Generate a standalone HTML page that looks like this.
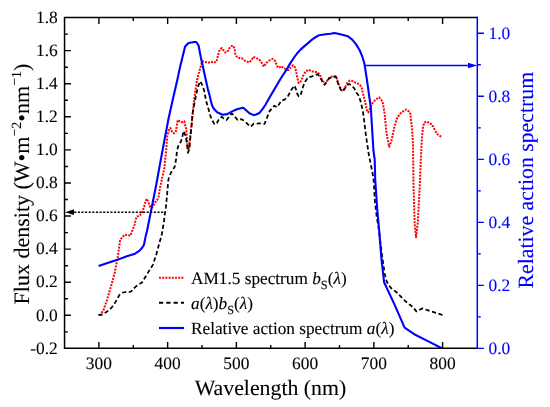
<!DOCTYPE html><html><head><meta charset="utf-8"><style>html,body{margin:0;padding:0;background:#fff;width:550px;height:407px;overflow:hidden}svg{display:block}text{font-family:"Liberation Serif",serif;text-rendering:geometricPrecision;stroke:#000;stroke-width:0.1px}text.b{fill:#00f;stroke:#00f}svg{will-change:transform}</style></head><body>
<svg width="550" height="407" viewBox="0 0 550 407">
<rect width="550" height="407" fill="#fff"/>
<polyline points="99.3,315.3 100.9,313.9 103.4,310.5 105.3,304.6 107.3,299.2 108.8,293.8 110.2,288.8 111.7,283.9 112.7,280.0 114.6,273.4 117.6,257.7 120.2,239.8 124.6,234.7 130.5,235.6 134.5,224.8 136.4,217.0 140.0,215.1 142.0,212.6 143.9,207.3 144.9,203.8 145.9,200.4 146.9,198.7 148.3,201.9 149.3,204.8 150.5,207.8 152.3,207.3 153.7,204.8 155.2,202.4 157.2,199.9 158.6,197.0 160.0,187.5 164.2,169.1 166.1,150.7 167.3,136.0 169.1,129.2 170.4,128.0 172.2,132.3 174.0,133.5 175.9,131.1 177.7,120.0 181.3,122.2 184.2,121.3 186.2,129.1 187.5,144.8 188.7,149.7 190.1,137.0 192.1,119.3 194.2,99.1 197.0,80.0 198.3,75.0 202.2,61.2 204.9,62.0 208.2,62.8 210.9,61.7 213.6,62.8 216.4,61.7 218.0,55.7 219.6,49.7 221.8,48.1 225.1,52.4 227.3,51.9 229.4,48.1 231.6,45.9 233.3,45.9 234.7,49.2 235.4,54.1 237.1,57.4 239.3,57.9 242.0,58.4 244.7,60.6 247.4,61.7 249.6,62.3 251.8,59.5 253.4,56.8 258.9,59.2 261.0,61.4 262.3,64.4 264.0,66.5 265.8,63.5 267.9,61.4 270.1,60.1 272.6,58.8 274.8,60.5 276.1,63.5 277.4,66.5 279.1,67.8 281.2,66.1 283.8,68.2 286.0,69.5 288.6,70.0 290.7,67.4 292.9,65.2 295.0,67.4 295.9,70.4 296.8,75.0 297.8,79.7 298.6,83.0 300.4,81.9 301.9,78.9 303.0,76.0 304.5,73.4 305.9,71.2 308.9,69.7 311.1,71.2 314.0,71.9 317.0,71.9 319.6,74.2 322.2,80.4 325.1,83.7 328.8,78.2 332.1,76.4 335.8,76.4 336.9,78.5 338.2,82.7 339.4,86.1 341.5,90.2 343.6,90.2 345.3,86.9 347.4,82.7 349.9,80.6 352.4,81.1 354.9,82.3 357.8,83.6 359.9,84.8 361.6,87.3 363.1,93.9 365.3,102.8 366.8,110.1 368.3,112.4 370.7,106.8 372.8,102.6 375.7,99.6 379.3,97.3 382.6,101.6 384.6,113.4 386.5,133.0 389.1,146.8 391.4,140.9 394.4,127.2 397.3,117.3 401.3,112.4 406.2,109.5 410.1,112.4 412.1,129.1 413.0,144.8 413.5,186.9 414.7,223.7 416.0,237.2 417.7,223.7 419.7,186.9 421.3,149.1 422.0,136.9 422.9,128.3 424.1,122.7 426.6,121.5 429.0,122.7 432.1,124.6 434.6,129.5 437.0,133.8 439.5,135.6 442.2,137.5" fill="none" stroke="#ff0000" stroke-width="2" stroke-dasharray="2 1.2" stroke-linejoin="round"/>
<polyline points="98.4,314.9 101.4,314.9 104.3,313.4 107.8,311.0 110.7,308.5 113.2,305.6 115.1,302.6 117.6,298.2 119.6,294.7 122.0,292.8 125.5,292.0 128.9,292.3 131.4,291.3 133.8,288.4 136.3,286.2 142.2,282.2 147.5,273.4 153.0,264.6 156.5,253.8 159.8,241.5 161.5,236.0 163.2,226.0 164.0,221.5 164.7,214.8 165.9,207.4 166.6,200.0 168.4,179.5 170.9,172.7 173.5,168.8 174.7,166.8 176.2,158.7 177.0,150.5 178.5,145.5 181.0,141.5 182.5,136.0 183.6,131.0 185.8,136.5 187.3,146.9 188.0,152.8 189.5,148.3 190.2,139.5 191.7,124.7 192.4,114.3 194.8,101.5 196.8,91.7 198.3,85.8 200.3,81.2 202.2,84.8 204.2,90.7 205.2,96.3 206.4,101.9 207.7,106.2 209.0,110.9 210.3,115.6 212.0,119.9 214.2,123.8 216.3,124.2 218.1,120.8 220.2,117.8 222.0,116.9 223.6,118.5 226.5,120.0 229.5,116.3 231.7,113.3 234.7,116.3 237.6,120.0 241.3,119.2 244.2,120.7 247.9,124.4 250.9,126.6 253.8,123.7 260.0,123.4 264.5,123.9 266.8,118.3 269.7,110.9 274.2,105.7 277.1,107.2 281.5,100.6 284.5,99.6 287.8,96.4 291.3,90.0 294.5,85.6 295.8,88.8 297.1,93.5 298.7,96.4 300.6,95.1 301.9,90.7 303.1,86.5 305.1,81.7 308.2,77.1 311.5,76.7 314.4,75.3 317.4,74.2 319.6,76.4 322.2,81.2 324.4,84.8 326.9,81.9 328.8,78.6 332.1,77.1 335.8,76.4 337.8,82.7 339.4,86.9 341.1,90.2 342.8,91.5 344.5,89.0 346.5,85.6 349.0,84.0 351.6,85.2 354.1,88.2 356.6,92.8 358.9,96.0 360.5,101.0 362.8,110.7 364.3,122.0 365.8,134.2 367.2,144.0 368.7,153.8 370.6,163.6 372.6,173.4 373.8,181.4 374.7,199.1 376.7,216.8 378.7,228.6 381.8,253.6 384.7,273.9 386.8,281.8 390.7,287.7 396.5,292.2 405.3,301.1 412.7,307.0 416.4,311.4 422.3,308.4 428.9,310.6 436.3,312.9 443.2,315.2" fill="none" stroke="#000" stroke-width="1.75" stroke-dasharray="4.2 2.6" stroke-linejoin="round"/>
<polyline points="98.6,266.1 109.7,262.3 118.1,259.5 127.6,256.1 134.3,254.1 139.6,250.6 142.3,247.5 144.0,244.7 144.7,240.9 145.7,236.1 146.8,232.0 147.8,227.3 150.2,215.0 154.2,195.0 156.1,185.5 160.8,159.6 164.5,140.0 168.4,119.3 172.8,99.6 177.3,80.0 179.6,69.1 185.1,46.5 188.5,43.0 194.4,42.0 196.3,42.0 198.5,45.3 200.8,57.2 204.3,73.0 207.8,89.0 209.5,95.0 210.7,100.2 212.0,105.3 213.8,108.8 217.2,112.2 222.5,114.8 227.3,114.1 231.7,111.6 236.9,109.2 242.8,107.7 245.0,109.2 249.4,113.3 253.8,115.1 255.5,114.8 259.4,113.0 262.5,109.2 265.3,105.0 269.7,97.3 275.6,87.3 280.0,79.7 283.0,75.0 286.7,69.4 290.2,63.4 293.6,58.2 297.0,53.5 300.5,49.6 303.9,46.6 307.4,43.6 310.8,40.6 314.2,38.0 319.1,35.2 325.5,34.2 330.5,33.7 334.4,33.0 338.2,33.7 343.3,34.9 347.7,36.2 352.2,39.6 356.0,44.1 359.8,50.5 362.4,56.8 364.3,63.2 365.4,70.0 366.8,78.9 369.7,99.6 370.8,107.5 373.4,150.0 374.7,159.6 375.2,179.5 377.2,208.9 379.1,229.6 381.5,259.5 384.1,282.2 395.0,305.6 404.6,327.6 414.2,334.2 427.4,340.9 441.8,348.3" fill="none" stroke="#0000ff" stroke-width="2.1" stroke-linejoin="round"/>
<line x1="74.2" y1="212.2" x2="164.5" y2="212.2" stroke="#000" stroke-width="1.6" stroke-dasharray="2.1 1.52"/>
<polygon points="65.2,212.2 74,209.3 74,215.1" fill="#000"/>
<line x1="364.8" y1="65.5" x2="470" y2="65.5" stroke="#0000ff" stroke-width="1.4"/>
<polygon points="477.2,65.5 468,62.7 468,68.3" fill="#0000ff"/>
<path d="M477.3,17.5 H64.55 V348.35 H477.3" fill="none" stroke="#000" stroke-width="1.5"/>
<path d="M98.90,348.35 V341.95000000000005 M98.90,17.5 V23.9 M133.27,348.35 V344.95000000000005 M133.27,17.5 V20.9 M167.64,348.35 V341.95000000000005 M167.64,17.5 V23.9 M202.01,348.35 V344.95000000000005 M202.01,17.5 V20.9 M236.38,348.35 V341.95000000000005 M236.38,17.5 V23.9 M270.75,348.35 V344.95000000000005 M270.75,17.5 V20.9 M305.12,348.35 V341.95000000000005 M305.12,17.5 V23.9 M339.49,348.35 V344.95000000000005 M339.49,17.5 V20.9 M373.86,348.35 V341.95000000000005 M373.86,17.5 V23.9 M408.23,348.35 V344.95000000000005 M408.23,17.5 V20.9 M442.60,348.35 V341.95000000000005 M442.60,17.5 V23.9 M64.55,331.84 H67.95 M64.55,315.30 H70.95 M64.55,298.76 H67.95 M64.55,282.22 H70.95 M64.55,265.68 H67.95 M64.55,249.14 H70.95 M64.55,232.60 H67.95 M64.55,216.06 H70.95 M64.55,199.52 H67.95 M64.55,182.98 H70.95 M64.55,166.44 H67.95 M64.55,149.90 H70.95 M64.55,133.36 H67.95 M64.55,116.82 H70.95 M64.55,100.28 H67.95 M64.55,83.74 H70.95 M64.55,67.20 H67.95 M64.55,50.66 H70.95 M64.55,34.12 H67.95" stroke="#000" stroke-width="1.4" fill="none"/>
<path d="M477.3,348.40 H483.90000000000003 M477.3,316.89 H480.8 M477.3,285.38 H483.90000000000003 M477.3,253.87 H480.8 M477.3,222.36 H483.90000000000003 M477.3,190.85 H480.8 M477.3,159.34 H483.90000000000003 M477.3,127.83 H480.8 M477.3,96.32 H483.90000000000003 M477.3,64.81 H480.8 M477.3,33.30 H483.90000000000003" stroke="#0000ff" stroke-width="1.4" fill="none"/>
<line x1="477.3" y1="16.8" x2="477.3" y2="349.05" stroke="#0000ff" stroke-width="1.5"/>
<text x="98.9" y="369.4" font-size="17.4" text-anchor="middle">300</text>
<text x="167.6" y="369.4" font-size="17.4" text-anchor="middle">400</text>
<text x="236.4" y="369.4" font-size="17.4" text-anchor="middle">500</text>
<text x="305.1" y="369.4" font-size="17.4" text-anchor="middle">600</text>
<text x="373.9" y="369.4" font-size="17.4" text-anchor="middle">700</text>
<text x="442.6" y="369.4" font-size="17.4" text-anchor="middle">800</text>
<text x="57.8" y="353.6" font-size="17.4" text-anchor="end">-0.2</text>
<text x="57.8" y="320.5" font-size="17.4" text-anchor="end">0.0</text>
<text x="57.8" y="287.4" font-size="17.4" text-anchor="end">0.2</text>
<text x="57.8" y="254.3" font-size="17.4" text-anchor="end">0.4</text>
<text x="57.8" y="221.3" font-size="17.4" text-anchor="end">0.6</text>
<text x="57.8" y="188.2" font-size="17.4" text-anchor="end">0.8</text>
<text x="57.8" y="155.1" font-size="17.4" text-anchor="end">1.0</text>
<text x="57.8" y="122.0" font-size="17.4" text-anchor="end">1.2</text>
<text x="57.8" y="88.9" font-size="17.4" text-anchor="end">1.4</text>
<text x="57.8" y="55.9" font-size="17.4" text-anchor="end">1.6</text>
<text x="57.8" y="22.8" font-size="17.4" text-anchor="end">1.8</text>
<text x="488.5" y="354.1" font-size="17.4" class="b">0.0</text>
<text x="488.5" y="291.1" font-size="17.4" class="b">0.2</text>
<text x="488.5" y="228.1" font-size="17.4" class="b">0.4</text>
<text x="488.5" y="165.0" font-size="17.4" class="b">0.6</text>
<text x="488.5" y="102.0" font-size="17.4" class="b">0.8</text>
<text x="488.5" y="39.0" font-size="17.4" class="b">1.0</text>
<text x="270.5" y="395.4" font-size="21.8" text-anchor="middle">Wavelength (nm)</text>
<text transform="translate(29.0,184) rotate(-90)" font-size="22" text-anchor="middle">Flux density (W&#8226;m<tspan font-size="14" dy="-10.5">&#8722;</tspan><tspan font-size="14" dy="2.5">2</tspan><tspan dy="8">&#8226;nm</tspan><tspan font-size="14" dy="-10.5">&#8722;</tspan><tspan font-size="14" dy="2.5">1</tspan><tspan dy="8">)</tspan></text>
<text transform="translate(532.6,180.2) rotate(-90)" font-size="21.8" text-anchor="middle" class="b">Relative action spectrum</text>
<line x1="159" y1="277.7" x2="184" y2="277.7" stroke="#ff0000" stroke-width="2" stroke-dasharray="2 1.2"/>
<line x1="159" y1="302.7" x2="184" y2="302.7" stroke="#000" stroke-width="2" stroke-dasharray="4.2 3.1"/>
<line x1="159" y1="328" x2="184" y2="328" stroke="#0000ff" stroke-width="2.2"/>
<text x="191" y="284.1" font-size="17.25">AM1.5 spectrum <tspan font-style="italic">b</tspan><tspan font-size="12.3" dy="5">S</tspan><tspan dy="-5">(<tspan font-style="italic">&#955;</tspan>)</tspan></text>
<text x="191" y="309.1" font-size="17.25"><tspan font-style="italic">a</tspan>(<tspan font-style="italic">&#955;</tspan>)<tspan font-style="italic">b</tspan><tspan font-size="12.3" dy="5">S</tspan><tspan dy="-5">(<tspan font-style="italic">&#955;</tspan>)</tspan></text>
<text x="191" y="333.9" font-size="17.25">Relative action spectrum <tspan font-style="italic">a</tspan>(<tspan font-style="italic">&#955;</tspan>)</text>
</svg></body></html>
